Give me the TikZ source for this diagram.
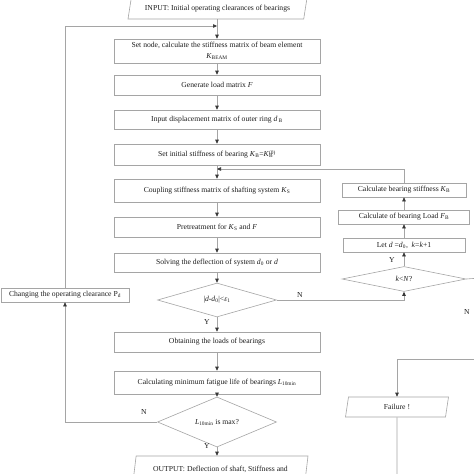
\documentclass[tikz,border=0pt]{standalone}
\usepackage{fontspec}
\setmainfont{Liberation Serif}
\usetikzlibrary{shapes.geometric,arrows.meta}
\definecolor{linegray}{RGB}{165,165,165}
\definecolor{textc}{RGB}{30,30,30}
\definecolor{tipc}{RGB}{55,55,55}
\newcommand\fs{\fontsize{7.65}{10.5}\selectfont}
\newcommand\tsb[1]{\textsubscript{#1}}
\begin{document}
\begin{tikzpicture}[x=1pt,y=-1pt,
  box/.style={draw=linegray, line width=0.6pt, fill=white, inner sep=1pt, align=center, font=\fs, text=textc},
  mainbox/.style={box, minimum width=206pt},
  dia/.style={diamond, draw=linegray, line width=0.6pt, fill=white, inner sep=0pt, font=\fs, text=textc},
  para/.style={trapezium, trapezium left angle=70, trapezium right angle=110, trapezium stretches body,
    draw=linegray, line width=0.6pt, fill=white, inner sep=1pt, font=\fs, text=textc},
  arr/.style={draw=linegray, line width=0.6pt, -{Triangle[length=4pt,width=3.5pt,color=tipc]}},
  ln/.style={draw=linegray, line width=0.6pt},
  lab/.style={font=\fs, text=textc, inner sep=0pt}]
\useasboundingbox (0,0) rectangle (474,474);
\clip (0,0) rectangle (474,474);
\fill[white] (0,0) rectangle (474,474);

% main column
\node[para, minimum width=179pt, minimum height=21pt] (in) at (217.5,8.5) {INPUT: Initial operating clearances of bearings};
\node[mainbox, minimum height=24pt] (b1) at (217,51) {Set node, calculate the stiffness matrix of beam element\\\textit{K}\tsb{BEAM}};
\node[mainbox, minimum height=20pt] (b2) at (217,85) {Generate load matrix \textit{F}};
\node[mainbox, minimum height=19pt] (b3) at (217,119.5) {Input displacement matrix of outer ring \textit{d}\,\tsb{B}};
\node[mainbox, minimum height=21pt] (b4) at (217,154.5) {Set initial stiffness of bearing \textit{K}\tsb{B}=\textit{K}\rlap{\tsb{B}}\textsuperscript{(0)}};
\node[mainbox, minimum height=23pt] (b5) at (217,190.5) {Coupling stiffness matrix of shafting system \textit{K}\tsb{S}};
\node[mainbox, minimum height=20pt] (b6) at (217,227) {Pretreatment for \textit{K}\tsb{S} and \textit{F}};
\node[mainbox, minimum height=19pt] (b7) at (217,262.5) {Solving the deflection of system \textit{d}\tsb{0} or \textit{d}};
\node[dia, minimum width=119pt, minimum height=31pt] (d1) at (217,300) {|\textit{d}-\textit{d}\tsb{0}|<\textit{ε}\tsb{1}};
\node[mainbox, minimum height=20pt] (b8) at (217,342) {Obtaining the loads of bearings};
\node[mainbox, minimum height=23pt] (b9) at (217,382.5) {Calculating minimum fatigue life of bearings \textit{L}\tsb{10min}};
\node[dia, minimum width=119pt, minimum height=28pt] (d2) at (217,422) {\textit{L}\tsb{10min} is max?};
\node[para, minimum width=175pt, minimum height=26pt] (out) at (220.5,469) {OUTPUT: Deflection of shaft, Stiffness and};

% left
\node[box, minimum width=128pt, minimum height=14pt] (chg) at (65,295) {Changing the operating clearance P\tsb{d}};

% right column
\node[box, minimum width=124pt, minimum height=14pt] (r1) at (404,190) {Calculate bearing stiffness \textit{K}\tsb{B}};
\node[box, minimum width=131pt, minimum height=14pt] (r2) at (404,217) {Calculate of bearing Load \textit{F}\tsb{B}};
\node[box, minimum width=122pt, minimum height=14pt] (r3) at (404,245) {Let \textit{d} =\textit{d}\tsb{0},\ \ \textit{k}=\textit{k}+1};
\node[dia, minimum width=124pt, minimum height=25pt] (dr) at (404,279) {\textit{k}<\textit{N}?};
\node[para, minimum width=103pt, minimum height=20pt, trapezium left angle=68, trapezium right angle=112] (fail) at (397,407) {Failure !};

% junctions
\coordinate (j1) at (217,26);
\coordinate (j2) at (217,169);
\coordinate (e1) at (480,278);
\coordinate (e2) at (480,359);
\coordinate (e3) at (397,480);
\coordinate (v1) at (65,422);

% connectors
\draw[arr] (in.south -| b1.north) -- (b1.north);
\draw[arr] (b1) -- (b2);
\draw[arr] (b2) -- (b3);
\draw[arr] (b3) -- (b4);
\draw[arr] (b4) -- (b5);
\draw[arr] (b5) -- (b6);
\draw[arr] (b6) -- (b7);
\draw[arr] (b7) -- (d1);
\draw[arr] (d1) -- (b8);
\draw[arr] (b8) -- (b9);
\draw[arr] (b9) -- (d2);
\draw[arr] (d2.south) -- (d2.south |- out.north);
\draw[arr] (d2.west) -- (v1) -- (chg.south);
\draw[arr] (chg.north) |- (j1);
\draw[arr] (r1.north) |- (j2);
\draw[arr] (d1.east) -| (dr.south);
\draw[arr] (dr) -- (r3);
\draw[arr] (r3) -- (r2);
\draw[arr] (r2) -- (r1);
\draw[ln] (dr.east) -- (e1);
\draw[arr] (e2) -| (fail.north);
\draw[ln] (fail.south) -- (e3);

% labels
\node[lab] (ly1) at (207,322) {Y};
\node[lab] (ly2) at (207,446) {Y};
\node[lab] (ln1) at (144,412) {N};
\node[lab] (ln2) at (300,295) {N};
\node[lab] (ly3) at (392,260) {Y};
\node[lab] (ln3) at (467,312) {N};
\end{tikzpicture}
\end{document}
